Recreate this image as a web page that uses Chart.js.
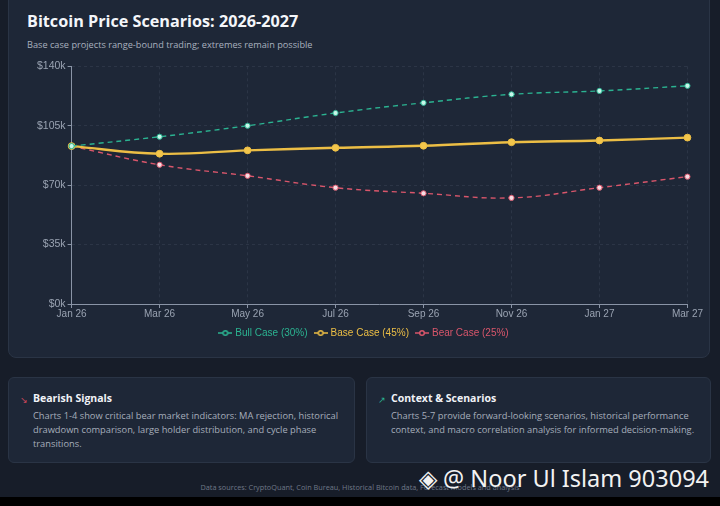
<!DOCTYPE html>
<html>
<head>
<meta charset="utf-8">
<script src="https://cdn.jsdelivr.net/npm/chart.js@4.4.1/dist/chart.umd.min.js"></script>
<style>
  html, body { margin: 0; padding: 0; }
  body {
    width: 720px; height: 506px; overflow: hidden; position: relative;
    background: #171d29; font-family: "Open Sans", "Noto Sans", sans-serif;
  }
  .card {
    position: absolute; left: 8px; top: -10px; width: 702px; height: 368px;
    background: #1e2737; border: 1px solid #2a3445; border-radius: 8px; box-sizing: border-box;
  }
  h1 { position: absolute; left: 27px; top: 10px; margin: 0; font-size: 16.2px; font-weight: 700; color: #f4f6fa; }
  .sub { position: absolute; left: 27px; top: 38px; font-size: 9.2px; color: #a9b1bf; }
  #wrap { position: absolute; left: 35px; top: 58px; width: 668px; height: 290px; }
  .note {
    position: absolute; top: 377px; height: 86px; background: #1e2737;
    border: 1px solid #2a3445; border-radius: 6px; box-sizing: border-box;
  }
  .note h2 { position: absolute; left: 24px; top: 13px; margin: 0; font-size: 10.5px; font-weight: 700; color: #f1f3f7; }
  .note .ic { position: absolute; left: 11px; top: 15px; font-size: 9px; }
  .note p { position: absolute; left: 24px; top: 31px; right: 8px; margin: 0; font-size: 9.3px; line-height: 14.2px; color: #a6aebb; }
  .foot { position: absolute; left: 0; width: 720px; top: 482px; text-align: center; font-size: 7.3px; color: #6f7888; }
  .mark { position: absolute; left: 419px; top: 462px; font-size: 23.5px; color: #f2f2f2; font-family: "Noto Sans", sans-serif; white-space: nowrap; }
  .strip { position: absolute; left: 0; top: 497px; width: 720px; height: 9px; background: #000; }
</style>
</head>
<body>
<div class="card"></div>
<h1>Bitcoin Price Scenarios: 2026-2027</h1>
<div class="sub">Base case projects range-bound trading; extremes remain possible</div>
<div id="wrap"><canvas id="chart"></canvas></div>

<div class="note" style="left:8px;width:347px;">
  <span class="ic" style="color:#d0485c;">↘</span>
  <h2>Bearish Signals</h2>
  <p>Charts 1-4 show critical bear market indicators: MA rejection, historical drawdown comparison, large holder distribution, and cycle phase transitions.</p>
</div>
<div class="note" style="left:366px;width:345px;">
  <span class="ic" style="color:#2bb391;">↗</span>
  <h2>Context &amp; Scenarios</h2>
  <p>Charts 5-7 provide forward-looking scenarios, historical performance context, and macro correlation analysis for informed decision-making.</p>
</div>
<div class="foot">Data sources: CryptoQuant, Coin Bureau, Historical Bitcoin data, Forecast models and analysis</div>
<div class="mark">◈ @ Noor Ul Islam 903094</div>
<div class="strip"></div>

<script>
const months = ['Jan 26', 'Mar 26', 'May 26', 'Jul 26', 'Sep 26', 'Nov 26', 'Jan 27', 'Mar 27'];
const bullCase = [93, 98.5, 105, 112.5, 118.5, 123.5, 125.5, 128.5];
const baseCase = [93, 88.5, 90.5, 92, 93.2, 95.3, 96.3, 98];
const bearCase = [93, 82, 75.5, 68.5, 65.2, 62.5, 68.5, 75];
const yTicks = [0, 35, 70, 105, 140];

// little "-o-" marker for the legend
function legendMark(color) {
  const c = document.createElement('canvas');
  c.width = 14; c.height = 8;
  const g = c.getContext('2d');
  g.strokeStyle = color; g.lineWidth = 1.5;
  g.beginPath(); g.moveTo(0, 4); g.lineTo(14, 4); g.stroke();
  g.fillStyle = '#1e2737';
  g.beginPath(); g.arc(7, 4, 2.3, 0, Math.PI * 2); g.fill(); g.stroke();
  return c;
}

const series = [
  { label: 'Bull Case (30%)', data: bullCase, color: '#2bb391', point: '#c8f7ea', dash: [5, 4], width: 1.4, r: 2.6 },
  { label: 'Base Case (45%)', data: baseCase, color: '#ecbe45', point: '#f3c64c', dash: [], width: 2.4, r: 3.4 },
  { label: 'Bear Case (25%)', data: bearCase, color: '#d9566b', point: '#f6dde3', dash: [5, 4], width: 1.4, r: 2.6 }
];
const marks = series.map(s => legendMark(s.color));

new Chart(document.getElementById('chart'), {
  type: 'line',
  data: {
    labels: months,
    datasets: series.map(s => ({
      label: s.label,
      data: s.data,
      borderColor: s.color,
      backgroundColor: s.point,
      pointBackgroundColor: s.point,
      pointBorderColor: s.color,
      pointBorderWidth: 1,
      pointRadius: s.r,
      pointStyle: 'circle',
      borderWidth: s.width,
      borderDash: s.dash,
      tension: 0.4,
      fill: false
    }))
  },
  options: {
    responsive: true,
    maintainAspectRatio: false,
    animation: false,
    layout: { padding: { left: 0, right: 9, top: 0, bottom: 0 } },
    plugins: {
      legend: {
        position: 'bottom',
        labels: {
          usePointStyle: true,
          padding: 8,
          font: { size: 10 },
          generateLabels(chart) {
            return chart.data.datasets.map((d, i) => ({
              text: d.label,
              fontColor: series[i].color,
              pointStyle: marks[i],
              strokeStyle: series[i].color,
              fillStyle: series[i].color,
              lineWidth: 0,
              datasetIndex: i,
              hidden: false
            }));
          }
        }
      },
      tooltip: { enabled: false }
    },
    scales: {
      x: {
        offset: false,
        grid: { color: 'rgba(140,155,180,0.13)', tickColor: '#8a94a6', tickLength: 4 },
        border: { color: '#8a94a6', dash: [3, 3] },
        ticks: { color: '#9aa3b2', font: { size: 10 }, padding: 0, maxRotation: 0 }
      },
      y: {
        min: 0, max: 140,
        afterBuildTicks(axis) { axis.ticks = yTicks.map(v => ({ value: v })); },
        grid: { color: 'rgba(140,155,180,0.13)', tickColor: '#8a94a6', tickLength: 4 },
        border: { color: '#8a94a6', dash: [3, 3] },
        ticks: { color: '#9aa3b2', font: { size: 10.5 }, padding: 2, callback: v => '$' + v + 'k' }
      }
    }
  }
});
</script>
</body>
</html>
